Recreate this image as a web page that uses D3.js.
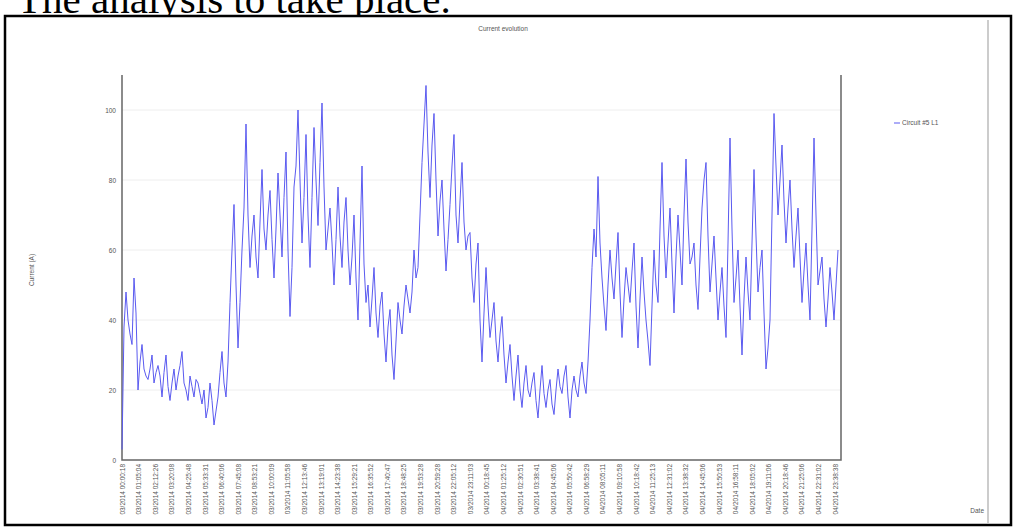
<!doctype html>
<html lang="en">
<head>
    <meta charset="UTF-8">
    <title>Current evolution</title>
    <script src="https://d3js.org/d3.v7.min.js"></script>
    <style>
        body { margin: 0; background: #fff; }
        svg { display: block; }
        .small { font-family: "Liberation Sans", Arial, sans-serif; fill: #555; }
    </style>
</head>
<body>
<svg width="1019" height="530"></svg>
<script>
    // current samples (A), evenly spaced over the period
    const current = [
        3, 38, 48, 40, 36, 33, 52, 42, 20, 28, 33, 26, 24, 23, 26, 30, 22, 25, 27, 24,
        18, 25, 30, 21, 17, 22, 26, 20, 24, 27, 31, 22, 20, 17, 24, 21, 18, 23, 22, 19,
        16, 20, 12, 15, 22, 17, 10, 14, 18, 25, 31, 22, 18, 28, 45, 60, 73, 50, 32, 45,
        60, 72, 96, 70, 55, 64, 70, 58, 52, 68, 83, 66, 60, 70, 77, 63, 52, 66, 82, 70,
        58, 75, 88, 60, 41, 55, 78, 84, 100, 80, 62, 75, 93, 70, 55, 75, 95, 80, 67, 85,
        102, 78, 60, 66, 72, 62, 50, 63, 78, 64, 55, 68, 75, 60, 50, 58, 70, 52, 40, 62,
        84, 56, 45, 50, 38, 46, 55, 42, 35, 44, 48, 36, 28, 38, 43, 30, 23, 34, 45, 40,
        36, 44, 50, 46, 42, 48, 60, 52, 55, 70, 85, 96, 107, 88, 75, 90, 99, 80, 64, 74,
        80, 66, 54, 63, 73, 84, 93, 70, 62, 74, 85, 68, 60, 64, 65, 52, 45, 56, 62, 40,
        28, 42, 55, 44, 35, 40, 45, 34, 28, 36, 41, 30, 22, 28, 33, 24, 17, 24, 30, 20,
        15, 22, 27, 20, 18, 22, 25, 17, 12, 20, 27, 19, 15, 20, 23, 16, 13, 20, 26, 21,
        19, 24, 27, 18, 12, 20, 24, 20, 18, 24, 28, 22, 19, 28, 40, 55, 66, 58, 81, 62,
        52, 44, 37, 50, 60, 52, 46, 56, 65, 48, 35, 46, 55, 50, 45, 54, 62, 44, 32, 46,
        58, 48, 40, 34, 27, 44, 60, 50, 45, 66, 85, 64, 52, 62, 72, 56, 42, 58, 70, 60,
        50, 70, 86, 68, 56, 58, 62, 50, 43, 58, 72, 80, 85, 64, 48, 56, 64, 52, 40, 48,
        55, 44, 35, 62, 92, 66, 45, 52, 60, 44, 30, 46, 58, 48, 40, 62, 83, 64, 48, 55,
        60, 42, 26, 32, 40, 70, 99, 84, 70, 80, 90, 74, 62, 72, 80, 66, 55, 64, 72, 58,
        45, 54, 62, 50, 40, 66, 92, 70, 50, 54, 58, 46, 38, 46, 55, 48, 40, 50, 60
    ];

    const dateLabels = [
        '03/2014 00:00:18', '03/2014 01:05:04', '03/2014 02:12:26', '03/2014 03:20:08',
        '03/2014 04:25:48', '03/2014 05:33:31', '03/2014 06:40:06', '03/2014 07:45:08',
        '03/2014 08:53:21', '03/2014 10:00:09', '03/2014 11:05:58', '03/2014 12:13:46',
        '03/2014 13:19:01', '03/2014 14:23:38', '03/2014 15:29:21', '03/2014 16:35:52',
        '03/2014 17:40:47', '03/2014 18:48:25', '03/2014 19:53:28', '03/2014 20:59:28',
        '03/2014 22:05:12', '03/2014 23:11:03', '04/2014 00:18:45', '04/2014 01:25:12',
        '04/2014 02:30:51', '04/2014 03:38:41', '04/2014 04:45:06', '04/2014 05:50:42',
        '04/2014 06:58:29', '04/2014 08:05:11', '04/2014 09:10:58', '04/2014 10:18:42',
        '04/2014 11:25:13', '04/2014 12:31:02', '04/2014 13:38:32', '04/2014 14:45:06',
        '04/2014 15:50:53', '04/2014 16:58:11', '04/2014 18:05:02', '04/2014 19:11:06',
        '04/2014 20:18:46', '04/2014 21:25:06', '04/2014 22:31:02', '04/2014 23:38:38'
    ];

    const yTicks = [0, 20, 40, 60, 80, 100];

    const svg = d3.select('svg');

    // heading from the document, clipped at the top like in the page shot
    svg.append('text')
        .attr('x', 17)
        .attr('y', 13)
        .attr('font-family', '"Liberation Serif", "Times New Roman", serif')
        .attr('font-size', 41)
        .attr('fill', '#000')
        .text('The analysis to take place.');

    // frame of the image
    svg.append('rect')
        .attr('x', 5).attr('y', 16)
        .attr('width', 1006).attr('height', 509)
        .attr('fill', '#fff')
        .attr('stroke', '#000')
        .attr('stroke-width', 2.5);

    svg.append('line')
        .attr('x1', 988).attr('x2', 988)
        .attr('y1', 20).attr('y2', 523)
        .attr('stroke', '#999')
        .attr('stroke-width', 1);

    const plotLeft = 122, plotRight = 841, plotTop = 75, plotBottom = 460;

    const yScale = d3.scaleLinear()
        .domain([0, 110])
        .range([plotBottom, plotTop]);

    const xScale = d3.scaleLinear()
        .domain([0, current.length - 1])
        .range([plotLeft, 838]);

    const xLabels = d3.scalePoint()
        .domain(dateLabels)
        .range([plotLeft, 835]);

    // grid
    svg.append('g')
        .selectAll('line')
        .data(yTicks.slice(1))
        .join('line')
        .attr('x1', plotLeft).attr('x2', plotRight)
        .attr('y1', d => yScale(d)).attr('y2', d => yScale(d))
        .attr('stroke', '#eeeeee')
        .attr('stroke-width', 1);

    // y axis
    const yAxis = svg.append('g')
        .attr('transform', `translate(${plotLeft},0)`)
        .call(d3.axisLeft(yScale).tickValues(yTicks).tickSize(0).tickPadding(6));
    yAxis.select('.domain').remove();
    yAxis.selectAll('text')
        .attr('class', 'small')
        .attr('font-size', 6.5);

    // x axis labels, vertical
    const xAxis = svg.append('g')
        .attr('transform', `translate(0,${plotBottom})`)
        .call(d3.axisBottom(xLabels).tickSize(0));
    xAxis.select('.domain').remove();
    xAxis.selectAll('text')
        .attr('class', 'small')
        .attr('font-size', 6.5)
        .attr('x', 0)
        .attr('y', 0)
        .attr('dy', '0.32em')
        .attr('text-anchor', 'end')
        .attr('transform', 'translate(0,4) rotate(-90)');

    // plot frame
    svg.append('path')
        .attr('d', `M${plotLeft},${plotTop}V${plotBottom}H${plotRight}V${plotTop}`)
        .attr('fill', 'none')
        .attr('stroke', '#666')
        .attr('stroke-width', 1.5);

    // series
    const line = d3.line()
        .x((d, i) => xScale(i))
        .y(d => yScale(d));

    svg.append('path')
        .datum(current)
        .attr('d', line)
        .attr('fill', 'none')
        .attr('stroke', '#5a5af0')
        .attr('stroke-width', 1);

    // titles
    svg.append('text')
        .attr('class', 'small')
        .attr('x', 503).attr('y', 31)
        .attr('text-anchor', 'middle')
        .attr('font-size', 6.5)
        .text('Current evolution');

    svg.append('text')
        .attr('class', 'small')
        .attr('transform', 'translate(34,270) rotate(-90)')
        .attr('text-anchor', 'middle')
        .attr('font-size', 6.5)
        .text('Current (A)');

    svg.append('text')
        .attr('class', 'small')
        .attr('x', 984).attr('y', 513)
        .attr('text-anchor', 'end')
        .attr('font-size', 6.5)
        .text('Date');

    // legend
    svg.append('line')
        .attr('x1', 894).attr('x2', 900)
        .attr('y1', 123).attr('y2', 123)
        .attr('stroke', '#5a5af0');
    svg.append('text')
        .attr('class', 'small')
        .attr('x', 902).attr('y', 125)
        .attr('font-size', 6.5)
        .text('Circuit #5 L1');
</script>
</body>
</html>
